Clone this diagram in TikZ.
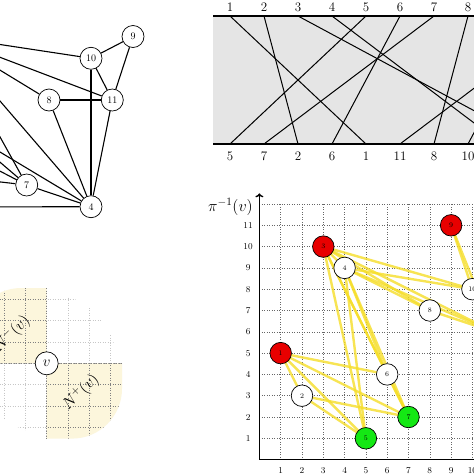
\RequirePackage{fix-cm}
\documentclass[tikz,border=0pt]{standalone}
\usetikzlibrary{arrows.meta}
\definecolor{nred}{RGB}{232,0,0}
\definecolor{ngreen}{RGB}{20,232,20}
\definecolor{eyellow}{RGB}{246,222,40}
\definecolor{cream}{RGB}{252,246,220}
\definecolor{permgrey}{RGB}{229,229,229}
\pgfdeclarelayer{gridlayer}
\pgfdeclarelayer{edgelayer}
\pgfsetlayers{gridlayer,edgelayer,main}
\begin{document}
\begin{tikzpicture}[x=1pt,y=-1pt,
  gnode/.style={circle,draw,line width=0.7pt,fill=white,minimum size=22pt,inner sep=0pt,font=\fontsize{10}{11}\selectfont},
  gedge/.style={line width=1.1pt},
  permline/.style={line width=1pt},
  permbar/.style={line width=2pt},
  permlab/.style={font=\fontsize{13}{14}\selectfont,inner sep=0pt},
  pnode/.style={circle,draw,line width=0.7pt,minimum size=21.5pt,inner sep=0pt,font=\fontsize{7}{8}\selectfont},
  pedge/.style={eyellow,line width=2.4pt,opacity=0.8},
  pgrid/.style={black!60,dotted,line width=0.5pt},
  lightgrid/.style={black!22,dotted,line width=0.5pt},
  darkgrid/.style={black!50,dotted,line width=0.5pt},
  axisline/.style={line width=1.4pt},
  ticklab/.style={font=\fontsize{9}{10}\selectfont,inner sep=0pt},
  vnode/.style={circle,draw,line width=0.7pt,fill=white,minimum size=23pt,inner sep=0pt,font=\fontsize{15}{16}\selectfont},
  nlab/.style={rotate=45,font=\fontsize{16}{18}\selectfont,inner sep=0pt}
]
\useasboundingbox (0,0) rectangle (474,474);
\begin{pgfonlayer}{gridlayer}
\fill[white] (0,0) rectangle (474,474);
\end{pgfonlayer}

% ---------------- top-left graph ----------------
\coordinate (g3) at (-56,36);
\coordinate (g6) at (-40,128);
\coordinate (g1) at (-60,140);
\coordinate (g2) at (-60,175);
\coordinate (g5) at (-60,207);
\node[gnode] (g9) at (133,36.5) {9};
\node[gnode] (g10) at (91,58.3) {10};
\node[gnode] (g8) at (49,100) {8};
\node[gnode] (g11) at (112.3,100) {11};
\node[gnode] (g7) at (26.7,185) {7};
\node[gnode] (g4) at (91,206.7) {4};
\begin{pgfonlayer}{edgelayer}
\foreach \a/\b in {1/2,1/5,1/6,1/7,2/5,2/7,3/4,3/5,3/6,3/7,3/8,3/10,3/11,4/5,4/6,4/7,4/8,4/10,4/11,6/7,8/11,9/10,9/11,10/11}
  \draw[gedge] (g\a) -- (g\b);
\end{pgfonlayer}

% ---------------- permutation diagram ----------------
\fill[permgrey] (213,16) rectangle (480,144);
\foreach \k in {1,...,11} {
  \coordinate (tt\k) at ({230+34*(\k-1)},16);
  \coordinate (bb\k) at ({230+34*(\k-1)},144);
}
\foreach \k in {1,...,8}
  \node[permlab] (lt\k) at ({230+34*(\k-1)},7.2) {\k};
\foreach \k/\v in {1/5,2/7,3/2,4/6,5/1,6/11,7/8,8/10}
  \node[permlab] (lb\k) at ({230+34*(\k-1)},156) {\v};
\foreach \k/\p in {1/5,2/3,3/10,4/9,5/1,6/4,7/2,8/7,9/11,10/8,11/6}
  \draw[permline] (tt\k) -- (bb\p);
\draw[permbar] (213,16) -- (480,16);
\draw[permbar] (213,144) -- (480,144);

% ---------------- neighbourhood sketch ----------------
\begin{pgfonlayer}{gridlayer}
\begin{scope}
  \clip (46.7,363.3) circle[radius=70];
  \foreach \i in {-3,...,4} \draw[lightgrid] ({46.7+21.3*\i},270) -- ({46.7+21.3*\i},460);
  \foreach \j in {-4,...,4} \draw[lightgrid] (-40,{363.3+21.3*\j}) -- (140,{363.3+21.3*\j});
\end{scope}
\fill[cream] (46.7,363.3) -- (122,363.3) -- (122,388.6) .. controls (122,416.2) and (99.6,438.6) .. (72,438.6) -- (46.7,438.6) -- cycle;
\fill[cream] (46.7,363.3) -- (46.7,288) -- (21.4,288) .. controls (-6.2,288) and (-28.6,310.4) .. (-28.6,338) -- (-28.6,363.3) -- cycle;
\begin{scope}
  \clip (46.7,363.3) -- (122,363.3) -- (122,388.6) .. controls (122,416.2) and (99.6,438.6) .. (72,438.6) -- (46.7,438.6) -- cycle
        (46.7,363.3) -- (46.7,288) -- (21.4,288) .. controls (-6.2,288) and (-28.6,310.4) .. (-28.6,338) -- (-28.6,363.3) -- cycle;
  \foreach \i in {-3,...,4} \draw[darkgrid] ({46.7+21.3*\i},270) -- ({46.7+21.3*\i},460);
  \foreach \j in {-4,...,4} \draw[darkgrid] (-40,{363.3+21.3*\j}) -- (140,{363.3+21.3*\j});
\end{scope}
\draw[darkgrid] (46.7,288) -- (46.7,438.6);
\draw[darkgrid] (-28.6,363.3) -- (122,363.3);
\end{pgfonlayer}
\node[vnode] (v) at (46.7,363.3) {$v$};
\node[nlab] (nminus) at (12,334) {$N^-(v)$};
\node[nlab] (nplus) at (81,392.4) {$N^+(v)$};

% ---------------- inverse permutation plot ----------------
\begin{scope}[shift={(259.4,459.6)},x=21.3pt,y=21.3pt]
  \begin{pgfonlayer}{gridlayer}
    \foreach \i in {1,...,11} \draw[pgrid] (\i,0) -- (\i,12);
    \foreach \j in {1,...,12} \draw[pgrid] (0,\j) -- (11.5,\j);
  \end{pgfonlayer}
  \draw[axisline] (0,0) -- (11.5,0);
  \draw[axisline,-{To[length=4pt,width=8pt]}] (0,0) -- (0,12.5);
  \foreach \i in {1,...,10} \node[ticklab] (xt\i) at (\i,-0.5) {\i};
  \foreach \j in {1,...,11} \node[ticklab] (yt\j) at (-0.53,\j) {\j};
  \node[font=\fontsize{16}{18}\selectfont,inner sep=0pt,anchor=east] (ylab) at (-0.3,11.87) {$\pi^{-1}(v)$};
  \foreach \v/\y/\c in {1/5/nred,2/3/white,3/10/nred,4/9/white,5/1/ngreen,6/4/white,7/2/ngreen,8/7/white,9/11/nred,10/8/white}
    \node[pnode,fill=\c] (p\v) at (\v,\y) {\v};
  \coordinate (p11) at (11,6);
  \begin{pgfonlayer}{edgelayer}
    \foreach \a/\b in {1/2,1/5,1/6,1/7,2/5,2/7,3/4,3/5,3/6,3/7,3/8,3/10,3/11,4/5,4/6,4/7,4/8,4/10,4/11,6/7,8/11,9/10,9/11,10/11}
      \draw[pedge] (p\a.center) -- (p\b.center);
  \end{pgfonlayer}
\end{scope}
\end{tikzpicture}
\end{document}
